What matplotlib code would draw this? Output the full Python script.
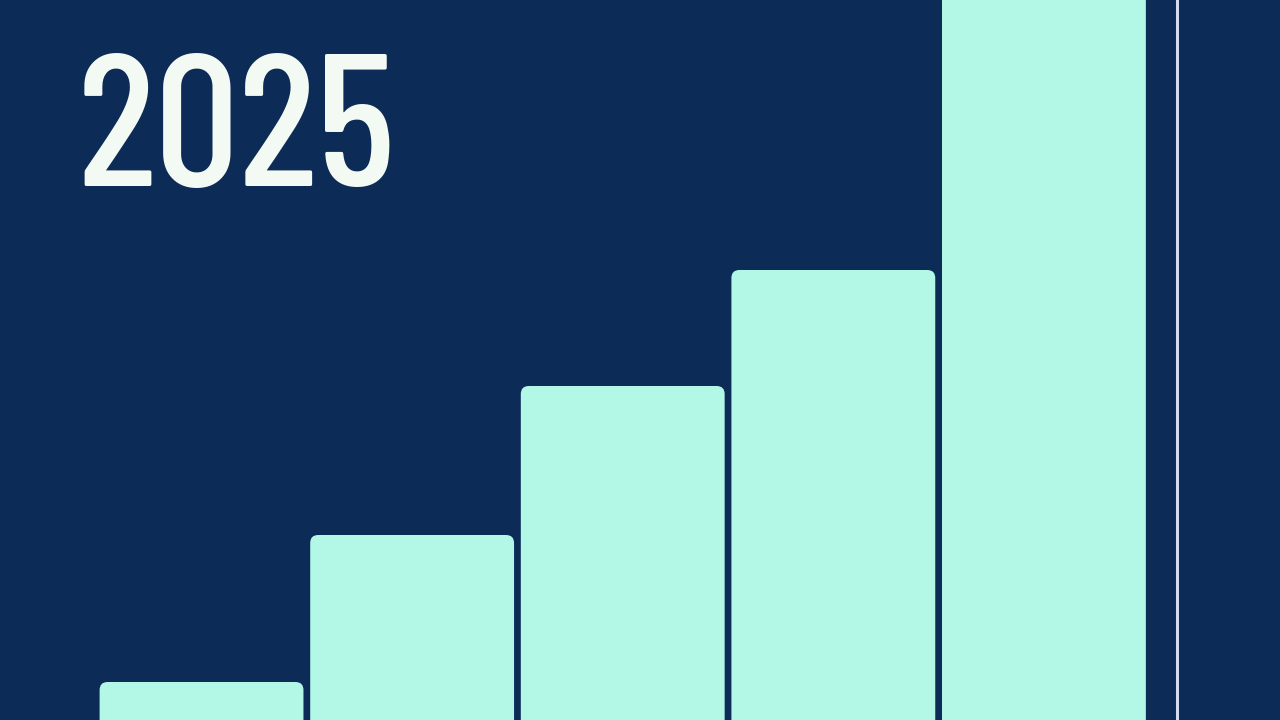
import matplotlib
matplotlib.use("Agg")
import matplotlib.pyplot as plt
from matplotlib.patches import FancyBboxPatch

# Data
categories = ["A", "B", "C", "D", "E"]
values = [38, 185, 334, 450, 760]
title = "2025"

BG = "#0c2b57"
BAR = "#b3f7e7"
TXT = "#f3faf3"
LINE = "#d6dcf0"

fig = plt.figure(figsize=(12.8, 7.2), dpi=100, facecolor=BG)
ax = fig.add_axes([0, 0, 1, 1])
ax.set_facecolor(BG)

x = list(range(len(categories)))
bars = ax.bar(x, values, width=0.968, color=BAR, linewidth=0)

xlim = (-0.957, 5.121)
ylim = (0, 720)
ax.set_xlim(*xlim)
ax.set_ylim(*ylim)

# replace with rounded-corner boxes
px_per_x = 1280 / (xlim[1] - xlim[0])
px_per_y = 720 / (ylim[1] - ylim[0])
r_px = 8
r = r_px / px_per_x
aspect = px_per_x / px_per_y
for b in bars:
    x0, y0 = b.get_x(), b.get_y()
    w, h = b.get_width(), b.get_height()
    p = FancyBboxPatch((x0, y0 - 20), w, h + 20,
                       boxstyle=f"round,pad=0,rounding_size={r}",
                       mutation_aspect=aspect, facecolor=BAR,
                       edgecolor="none")
    ax.add_patch(p)
    b.set_visible(False)

ax.axvline(4.632, color=LINE, linewidth=2.2)

ax.set_axis_off()

fig.text(78 / 1280, 1 - 186 / 720, title, color=TXT, fontsize=135,
         family=["Barlow Condensed", "Pathway Gothic One", "DejaVu Sans"],
         fontweight=500, fontstretch="condensed",
         va="baseline", ha="left")

fig.savefig("out.png", dpi=100, facecolor=BG)
